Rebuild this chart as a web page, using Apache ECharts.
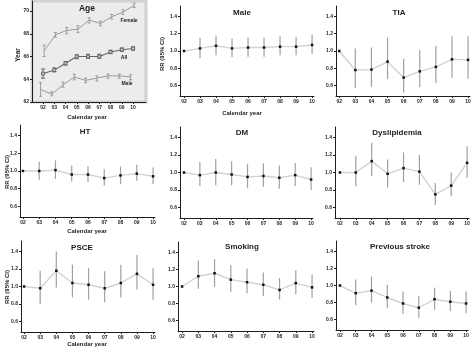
<!DOCTYPE html>
<html>
<head>
<meta charset="utf-8">
<script src="https://cdn.jsdelivr.net/npm/echarts@6/dist/echarts.min.js"></script>
<style>
html, body { margin: 0; padding: 0; background: #fff; }
#chart { width: 474px; height: 348px; }
</style>
</head>
<body>
<div id="chart"></div>
<script>
// Calendar years 2002–2010
const years = [2, 3, 4, 5, 6, 7, 8, 9, 10];
const yearLabels = ['02', '03', '04', '05', '06', '07', '08', '09', '10'];

// Mean age (years) with 95% CI
const ageFemale   = [66.5, 67.9, 68.3, 68.4, 69.2, 68.9, 69.5, 69.9, 70.5];
const ageFemaleLo = [66.0, 67.7, 68.0, 68.1, 68.95, 68.7, 69.3, 69.7, 70.3];
const ageFemaleHi = [67.0, 68.1, 68.55, 68.7, 69.4, 69.1, 69.7, 70.1, 70.7];
const ageAll      = [64.5, 64.8, 65.4, 66.0, 66.0, 66.0, 66.4, 66.6, 66.7];
const ageAllLo    = [64.1, 64.65, 65.25, 65.8, 65.85, 65.85, 66.25, 66.45, 66.55];
const ageAllHi    = [64.9, 65.0, 65.55, 66.15, 66.2, 66.2, 66.55, 66.75, 66.85];
const ageMale     = [63.1, 62.7, 63.5, 64.2, 63.9, 64.1, 64.3, 64.3, 64.2];
const ageMaleLo   = [62.5, 62.55, 63.3, 63.95, 63.7, 63.85, 64.1, 64.1, 63.95];
const ageMaleHi   = [63.7, 62.9, 63.75, 64.45, 64.1, 64.3, 64.45, 64.45, 64.4];
const ageTicks = [62, 64, 66, 68, 70];

// Relative risk vs 2002 (reference year has no interval)
const rrMale     = [1.0, 1.03, 1.06, 1.03, 1.04, 1.04, 1.05, 1.05, 1.07];
const rrMaleLo   = [null, 0.92, 0.95, 0.93, 0.935, 0.935, 0.95, 0.95, 0.965];
const rrMaleHi   = [null, 1.15, 1.18, 1.145, 1.16, 1.155, 1.17, 1.165, 1.19];

const rrTia      = [1.0, 0.78, 0.785, 0.877, 0.693, 0.765, 0.816, 0.904, 0.897];
const rrTiaLo    = [null, 0.57, 0.585, 0.675, 0.52, 0.58, 0.63, 0.69, 0.68];
const rrTiaHi    = [null, 1.03, 1.04, 1.155, 0.91, 1.01, 1.06, 1.17, 1.17];

const rrHt       = [1.0, 1.0, 1.01, 0.96, 0.96, 0.92, 0.95, 0.97, 0.94];
const rrHtLo     = [null, 0.9, 0.91, 0.88, 0.875, 0.835, 0.85, 0.89, 0.85];
const rrHtHi     = [null, 1.105, 1.12, 1.06, 1.055, 1.02, 1.05, 1.07, 1.04];

const rrDm       = [1.0, 0.97, 1.0, 0.977, 0.95, 0.96, 0.94, 0.97, 0.92];
const rrDmLo     = [null, 0.845, 0.855, 0.855, 0.82, 0.837, 0.815, 0.845, 0.8];
const rrDmHi     = [null, 1.12, 1.155, 1.13, 1.1, 1.105, 1.08, 1.11, 1.06];

const rrDys      = [1.0, 1.0, 1.13, 0.985, 1.05, 1.01, 0.75, 0.85, 1.11];
const rrDysLo    = [null, 0.84, 0.96, 0.83, 0.89, 0.86, 0.63, 0.73, 0.94];
const rrDysHi    = [null, 1.19, 1.34, 1.15, 1.23, 1.2, 0.88, 1.0, 1.3];

const rrPsce     = [1.0, 0.98, 1.18, 1.04, 1.02, 0.98, 1.04, 1.145, 1.02];
const rrPsceLo   = [null, 0.8, 0.99, 0.875, 0.85, 0.82, 0.875, 0.965, 0.85];
const rrPsceHi   = [null, 1.18, 1.40, 1.25, 1.21, 1.175, 1.25, 1.36, 1.21];

const rrSmoking   = [1.0, 1.12, 1.155, 1.08, 1.05, 1.02, 0.96, 1.04, 0.99];
const rrSmokingLo = [null, 0.975, 0.995, 0.94, 0.92, 0.89, 0.85, 0.91, 0.87];
const rrSmokingHi = [null, 1.305, 1.32, 1.25, 1.21, 1.165, 1.1, 1.19, 1.14];

const rrPrev     = [1.0, 0.91, 0.94, 0.86, 0.79, 0.74, 0.84, 0.81, 0.79];
const rrPrevLo   = [null, 0.77, 0.8, 0.735, 0.667, 0.62, 0.715, 0.70, 0.675];
const rrPrevHi   = [null, 1.07, 1.105, 1.01, 0.93, 0.876, 0.975, 0.94, 0.93];

const rrTicks = [0.6, 0.8, 1.0, 1.2, 1.4];

// ---- styling helpers ----
const FONT = '"Liberation Sans", Arial, sans-serif';
const INK = '#1e1e1e';

function yearText(v) {
  const i = years.indexOf(Math.round(v));
  return i >= 0 ? yearLabels[i] : '';
}

function makeXAxis(gridIndex, min, max) {
  return {
    type: 'value', gridIndex, min, max,
    axisLine: { show: true, onZero: false, lineStyle: { color: INK, width: 1 } },
    axisTick: { show: true, length: 2, customValues: years, lineStyle: { color: INK } },
    axisLabel: { customValues: years, formatter: yearText, margin: 3,
                 fontSize: 5, fontWeight: 'bold', fontFamily: FONT, color: INK },
    splitLine: { show: false }
  };
}

function makeYAxis(gridIndex, min, max, ticks, digits) {
  return {
    type: 'value', gridIndex, min, max,
    axisLine: { show: true, lineStyle: { color: INK, width: 1 } },
    axisTick: { show: true, length: 2, customValues: ticks, lineStyle: { color: INK } },
    axisLabel: { customValues: ticks, formatter: v => v.toFixed(digits), margin: 3,
                 fontSize: 5, fontWeight: 'bold', fontFamily: FONT, color: INK },
    splitLine: { show: false }
  };
}

// vertical interval bars drawn in data space
function errorBars(axisIndex, xs, lo, hi, color, capHalf, lineWidth) {
  return {
    type: 'custom', xAxisIndex: axisIndex, yAxisIndex: axisIndex, silent: true, z: 2,
    data: xs.map((x, i) => [x, lo[i] == null ? '-' : lo[i], hi[i] == null ? '-' : hi[i]]),
    encode: { x: 0, y: [1, 2] },
    renderItem(params, api) {
      const a = api.value(1), b = api.value(2);
      if (isNaN(a) || isNaN(b)) return null;
      const top = api.coord([api.value(0), b]);
      const bot = api.coord([api.value(0), a]);
      const st = { stroke: color, lineWidth };
      const kids = [{ type: 'line', shape: { x1: top[0], y1: top[1], x2: bot[0], y2: bot[1] }, style: st }];
      if (capHalf > 0) {
        kids.push({ type: 'line', shape: { x1: top[0] - capHalf, y1: top[1], x2: top[0] + capHalf, y2: top[1] }, style: st });
        kids.push({ type: 'line', shape: { x1: bot[0] - capHalf, y1: bot[1], x2: bot[0] + capHalf, y2: bot[1] }, style: st });
      }
      return { type: 'group', children: kids };
    }
  };
}

function meanLine(axisIndex, xs, vals, lineColor, symbol, symbolSize, markColor, lw, fill) {
  return {
    type: 'line', xAxisIndex: axisIndex, yAxisIndex: axisIndex, silent: true, z: 3,
    data: xs.map((x, i) => [x, vals[i]]),
    symbol, symbolSize, showSymbol: symbol !== 'none',
    lineStyle: { color: lineColor, width: lw },
    itemStyle: { color: fill || markColor, borderColor: markColor, borderWidth: fill ? 0.8 : 0 },
    animation: false
  };
}

function label(text, x, y, size, opts) {
  opts = opts || {};
  return {
    type: 'text', x, y, rotation: opts.rotate ? Math.PI / 2 : 0, z: 10, silent: true,
    style: { text, fill: opts.color || INK, font: 'bold ' + size + 'px ' + FONT,
             textAlign: opts.align || 'center', textVerticalAlign: 'middle' }
  };
}

// ---- panels ----
const rrPanels = [
  { name: 'Male',            v: rrMale,    lo: rrMaleLo,    hi: rrMaleHi,    box: [180, 6, 134, 90],   xr: [1.75, 10.12], t: [242, 13] },
  { name: 'TIA',             v: rrTia,     lo: rrTiaLo,     hi: rrTiaHi,     box: [336, 6, 134, 90],   xr: [1.80, 10.12], t: [399, 13] },
  { name: 'HT',              v: rrHt,      lo: rrHtLo,      hi: rrHtHi,      box: [20, 125, 135, 92],  xr: [1.82, 10.12], t: [85, 132] },
  { name: 'DM',              v: rrDm,      lo: rrDmLo,      hi: rrDmHi,      box: [180, 127, 133, 91], xr: [1.75, 10.12], t: [242, 133] },
  { name: 'Dyslipidemia',    v: rrDys,     lo: rrDysLo,     hi: rrDysHi,     box: [335, 127, 134, 91], xr: [1.69, 10.12], t: [397, 133] },
  { name: 'PSCE',            v: rrPsce,    lo: rrPsceLo,    hi: rrPsceHi,    box: [21, 241, 134, 91],  xr: [1.81, 10.12], t: [82, 248] },
  { name: 'Smoking',         v: rrSmoking, lo: rrSmokingLo, hi: rrSmokingHi, box: [178, 242, 136, 89], xr: [1.75, 10.12], t: [242, 247] },
  { name: 'Previous stroke', v: rrPrev,    lo: rrPrevLo,    hi: rrPrevHi,    box: [336, 241, 132, 89], xr: [1.75, 10.12], t: [400, 247] }
];

const grids = [], xAxes = [], yAxes = [], series = [], texts = [];

// Age panel (index 0) on a shaded plotting area
grids.push({ left: 32, top: 1, width: 114, height: 101, show: true,
             backgroundColor: '#ececec', borderColor: '#d2d2d2', borderWidth: 3 });
xAxes.push(makeXAxis(0, 1.02, 11.15));
yAxes.push(makeYAxis(0, 62, 70.88, ageTicks, 0));
const xsFemale = years.map(y => y + 0.1);
const xsAll = years.slice();
const xsMale = years.map(y => y - 0.22);
series.push(errorBars(0, xsFemale, ageFemaleLo, ageFemaleHi, '#8a8a8a', 1.5, 0.8));
series.push(errorBars(0, xsAll, ageAllLo, ageAllHi, '#555', 2, 0.9));
series.push(errorBars(0, xsMale, ageMaleLo, ageMaleHi, '#8a8a8a', 1.5, 0.8));
series.push(meanLine(0, xsFemale, ageFemale, '#9a9a9a', 'none', 0, '#9a9a9a', 1));
series.push(meanLine(0, xsAll, ageAll, '#666', 'rect', 3, '#555', 1.1, '#c8c8c8'));
series.push(meanLine(0, xsMale, ageMale, '#9a9a9a', 'none', 0, '#9a9a9a', 1));
texts.push(label('Age', 87, 9, 8.5));
texts.push(label('Female', 129, 21, 5));
texts.push(label('All', 124, 58, 5));
texts.push(label('Male', 127, 84, 5));
texts.push(label('Year', 18, 55, 6.5, { rotate: true }));
texts.push(label('Calendar year', 87, 117, 6));

rrPanels.forEach((p, k) => {
  const gi = k + 1;
  grids.push({ left: p.box[0], top: p.box[1], width: p.box[2], height: p.box[3] });
  xAxes.push(makeXAxis(gi, p.xr[0], p.xr[1]));
  yAxes.push(makeYAxis(gi, 0.48, 1.52, rrTicks, 1));
  series.push(errorBars(gi, years, p.lo, p.hi, '#a0a0a0', 0, 1.2));
  series.push(meanLine(gi, years, p.v, '#d2d2d2', 'rect', 2.5, '#111', 1.4));
  texts.push(label(p.name, p.t[0], p.t[1], 8));
});

// axis titles shown on the left-hand panels of the layout
texts.push(label('RR (95% CI)', 162, 54, 6, { rotate: true }));
texts.push(label('RR (95% CI)', 7, 172, 6, { rotate: true }));
texts.push(label('RR (95% CI)', 7, 287, 6, { rotate: true }));
texts.push(label('Calendar year', 242, 113, 6));
texts.push(label('Calendar year', 87, 231, 6));
texts.push(label('Calendar year', 87, 344, 6));

const chart = echarts.init(document.getElementById('chart'), null, { renderer: 'canvas' });
chart.setOption({
  animation: false,
  backgroundColor: '#ffffff',
  grid: grids,
  xAxis: xAxes,
  yAxis: yAxes,
  series,
  graphic: { elements: texts }
});
</script>
</body>
</html>
